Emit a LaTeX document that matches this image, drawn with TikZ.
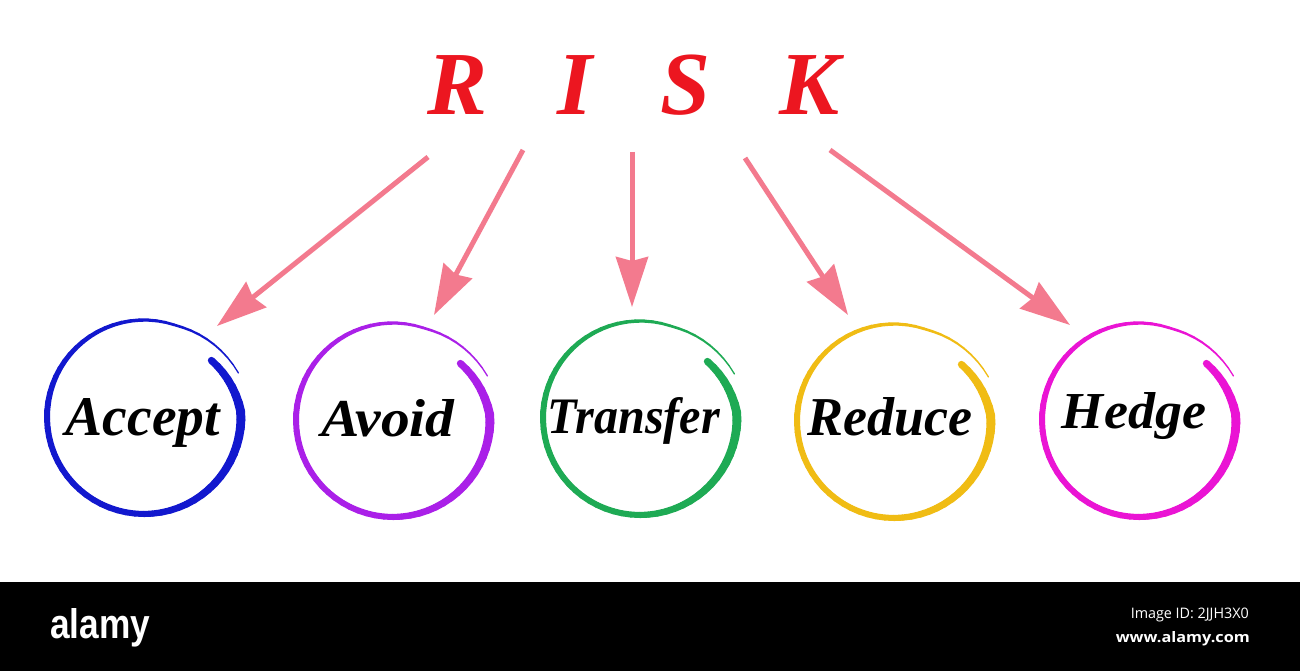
\documentclass[tikz,border=0pt]{standalone}
\usepackage{fontspec}
\usepackage{graphicx}
\setmainfont{Liberation Serif}
\newfontfamily\wmsans{Liberation Sans}
\newfontfamily\wmopen{Open Sans}
\usetikzlibrary{arrows.meta}
\definecolor{riskred}{RGB}{236,22,32}
\definecolor{arrowpink}{RGB}{243,122,142}
\definecolor{ringblue}{RGB}{18,24,206}
\definecolor{ringpurple}{RGB}{170,32,232}
\definecolor{ringgreen}{RGB}{30,170,84}
\definecolor{ringyellow}{RGB}{240,188,20}
\definecolor{ringmagenta}{RGB}{234,20,212}
\newcommand\brushring[3]{%
  \foreach \i in {0,...,71}{%
    \pgfmathsetmacro\ta{\i/72}%
    \pgfmathsetmacro\tb{(\i+1)/72}%
    \pgfmathsetmacro\tm{(\i+0.5)/72}%
    \pgfmathsetmacro\ra{rr(\ta)}%
    \pgfmathsetmacro\rb{rr(\tb)}%
    \pgfmathsetmacro\aa{-40+375*\ta}%
    \pgfmathsetmacro\ab{-40+375*\tb}%
    \pgfmathsetmacro\w{ww(\tm)}%
    \draw[draw=#3, line width=\w pt, line cap=round]
      ({#1+\ra*cos(\aa)},{#2+\ra*sin(\aa)}) -- ({#1+\rb*cos(\ab)},{#2+\rb*sin(\ab)});
  }}
\newcommand\mylabel[3]{\resizebox{#1pt}{#2pt}{#3}}
\begin{document}
\begin{tikzpicture}[x=1pt,y=-1pt,
  declare function={
    rr(\t)=(\t<0.1) ? (88+90*\t) : ((\t<0.88) ? 97 : (97+60*(\t-0.88)));
    ww(\t)=(\t<0.1) ? (7+20*\t) : ((\t<0.35) ? (9-12*(\t-0.1)) : ((\t<0.6) ? 6 : (6-12*(\t-0.6))));
  },
  arr/.style={draw=arrowpink, line width=5pt, -{Stealth[length=50pt,width=32pt,inset=4pt]}},
  riskletter/.style={inner sep=0pt, anchor=base, text=riskred, font=\fontsize{90}{90}\selectfont\bfseries\itshape},
  lbl/.style={inner sep=0pt, anchor=base, text=black, font=\bfseries\itshape},
  wm/.style={inner sep=0pt, text=white}]
\path[use as bounding box, fill=white] (0,0) rectangle (1300,671);
\fill[black] (0,582) rectangle (1300,671);

% title letters
\node[riskletter] (R) at (458,115) {R};
\node[riskletter] (I) at (575,115) {I};
\node[riskletter] (S) at (686,115) {S};
\node[riskletter] (K) at (810,115) {K};

% rings
\brushring{144}{417}{ringblue}
\brushring{393}{420}{ringpurple}
\brushring{640}{418}{ringgreen}
\brushring{894}{421}{ringyellow}
\brushring{1139}{420}{ringmagenta}

% labels
\node[lbl] (accept) at (143,435) {\mylabel{154}{37}{Accept}};
\node[lbl] (avoid) at (388,436) {\mylabel{133}{37}{Avoid}};
\node[lbl] (transfer) at (634,433) {\mylabel{172}{36}{Transfer}};
\node[lbl] (reduce) at (890,435) {\mylabel{165}{38}{Reduce}};
\node[lbl] (hedge) at (1134,428) {\mylabel{144}{36}{Hedge}};

% arrows
\coordinate (s1) at (428,157); \coordinate (t1) at (217,326);
\coordinate (s2) at (523,150); \coordinate (t2) at (434,315);
\coordinate (s3) at (632,152); \coordinate (t3) at (632,307);
\coordinate (s4) at (745,158); \coordinate (t4) at (848,315);
\coordinate (s5) at (830,150); \coordinate (t5) at (1070,325);
\draw[arr] (s1) -- (t1);
\draw[arr] (s2) -- (t2);
\draw[arr] (s3) -- (t3);
\draw[arr] (s4) -- (t4);
\draw[arr] (s5) -- (t5);

% watermark band
\node[wm, anchor=base west] (alamy) at (50,638) {\wmsans\bfseries\resizebox{100pt}{30pt}{alamy}};
\node[wm, anchor=base east] (imgid) at (1249,618) {\wmopen\resizebox{118pt}{10.5pt}{Image ID: 2JJH3X0}};
\node[wm, anchor=base east] (www) at (1250,642) {\wmopen\bfseries\resizebox{134pt}{11pt}{www.alamy.com}};
\end{tikzpicture}
\end{document}
